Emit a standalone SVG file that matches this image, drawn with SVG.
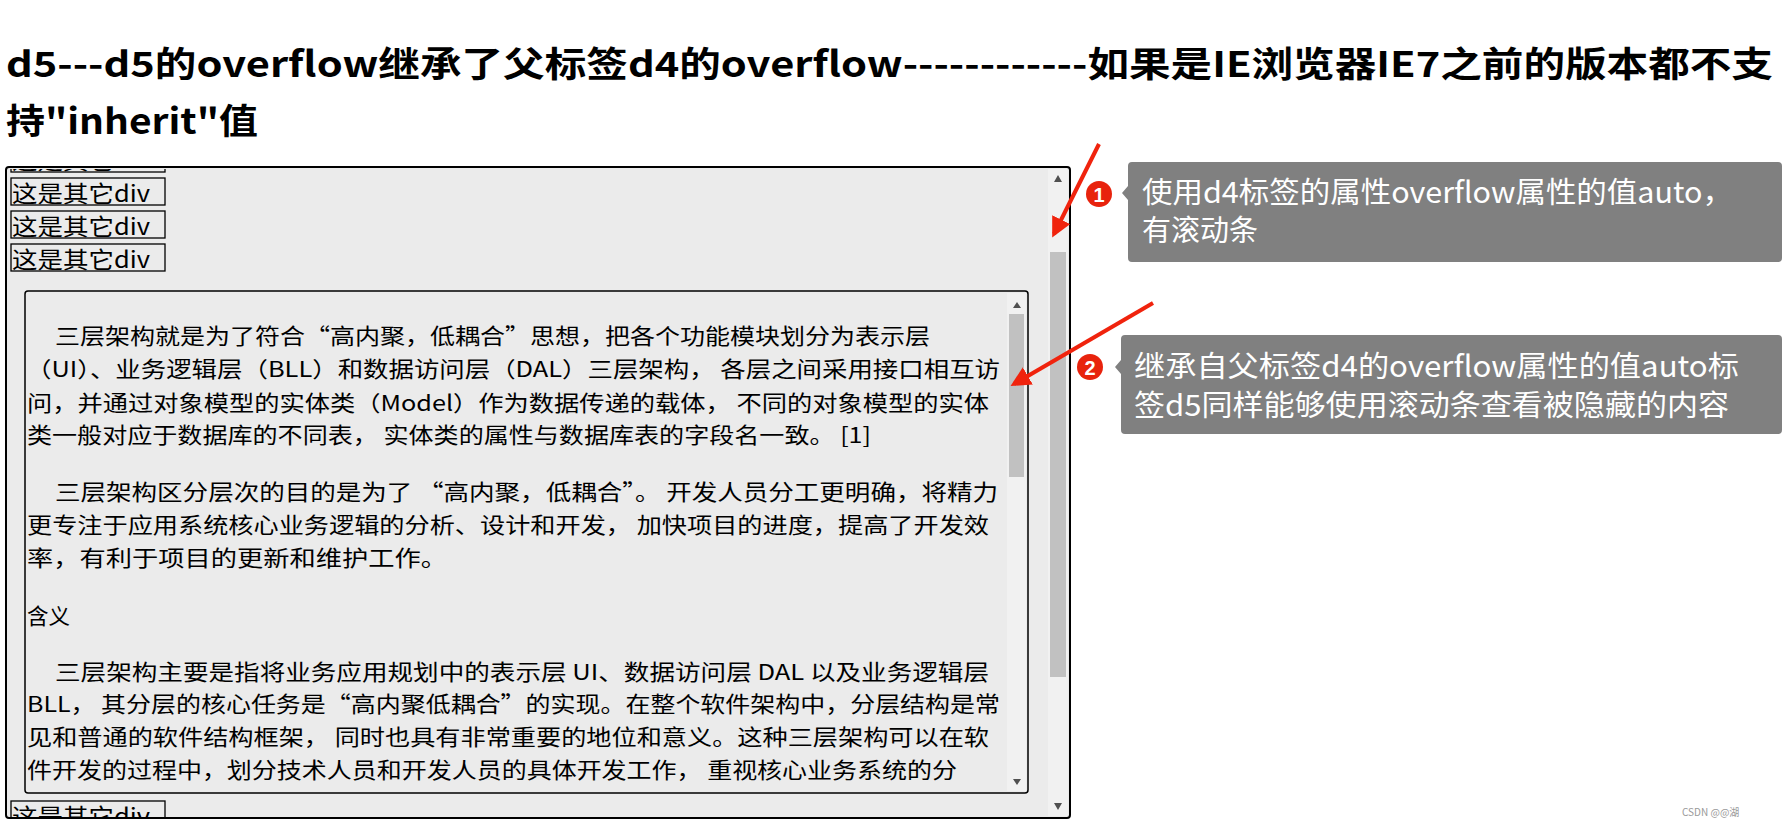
<svg xmlns="http://www.w3.org/2000/svg" width="1782" height="828" viewBox="0 0 1782 828">
<style>
.t{font-family:"Microsoft YaHei","Noto Sans CJK SC",sans-serif;fill:#000}
.b{font-size:23px}
.p{font-size:21.5px}
.w{font-family:"Noto Sans CJK SC",sans-serif;font-size:29px;fill:#fff}
.sb{fill:#c1c1c1}
.ar{fill:#505050}
.box{fill:none;stroke:#000;stroke-width:1.3}
</style>
<defs>
<clipPath id="oc"><rect x="7" y="169" width="1041" height="648"/></clipPath>
<marker id="ah" viewBox="0 0 10 10" refX="8" refY="5" markerWidth="5" markerHeight="5" orient="auto"><path d="M0,0L10,5L0,10z" fill="#f0230d"/></marker>
</defs>
<rect width="1782" height="828" fill="#fff"/>
<g id="title" class="t" font-weight="bold" font-size="35">
<text x="6" y="77" textLength="1767" lengthAdjust="spacingAndGlyphs">d5---d5的overflow继承了父标签d4的overflow------------如果是IE浏览器IE7之前的版本都不支</text>
<text x="6" y="134" textLength="252" lengthAdjust="spacingAndGlyphs">持"inherit"值</text>
</g>
<g id="d4">
<rect x="6" y="167" width="1064" height="651" rx="3" fill="#ebebeb" stroke="#000" stroke-width="2"/>
<rect x="1048" y="169" width="20" height="647" fill="#f1f1f1"/>
<rect class="sb" x="1050" y="252" width="16" height="425"/>
<path class="ar" d="M1054,182L1062,182L1058,175z M1054,803L1062,803L1058,810z"/>
<g clip-path="url(#oc)" class="t b">
<rect class="box" x="11" y="145" width="154" height="27"/><text x="12" y="169" textLength="138" lengthAdjust="spacingAndGlyphs">这是其它div</text>
<rect class="box" x="11" y="178" width="154" height="27"/><text x="12" y="202" textLength="138" lengthAdjust="spacingAndGlyphs">这是其它div</text>
<rect class="box" x="11" y="211" width="154" height="27"/><text x="12" y="235" textLength="138" lengthAdjust="spacingAndGlyphs">这是其它div</text>
<rect class="box" x="11" y="244" width="154" height="27"/><text x="12" y="268" textLength="138" lengthAdjust="spacingAndGlyphs">这是其它div</text>
<rect class="box" x="11" y="801" width="154" height="27"/><text x="12" y="825" textLength="138" lengthAdjust="spacingAndGlyphs">这是其它div</text>
</g>
</g>
<g id="d5">
<rect x="25" y="291" width="1003" height="502" rx="3" fill="#ebebeb" stroke="#000" stroke-width="1.5"/>
<rect x="1007" y="293" width="19" height="498" fill="#f1f1f1"/>
<rect class="sb" x="1009" y="314" width="15" height="163"/>
<path class="ar" d="M1013,308L1021,308L1017,302z M1013,779L1021,779L1017,785z"/>
<g class="t p">
<text x="55" y="344" textLength="875" lengthAdjust="spacingAndGlyphs">三层架构就是为了符合“高内聚，低耦合”思想，把各个功能模块划分为表示层</text>
<text x="26" y="377" textLength="974" lengthAdjust="spacingAndGlyphs">（UI）、业务逻辑层（BLL）和数据访问层（DAL）三层架构， 各层之间采用接口相互访</text>
<text x="27" y="411" textLength="962" lengthAdjust="spacingAndGlyphs">问，并通过对象模型的实体类（Model）作为数据传递的载体， 不同的对象模型的实体</text>
<text x="27" y="443" textLength="844" lengthAdjust="spacingAndGlyphs">类一般对应于数据库的不同表， 实体类的属性与数据库表的字段名一致。 [1]</text>
<text x="55" y="500" textLength="943" lengthAdjust="spacingAndGlyphs">三层架构区分层次的目的是为了 “高内聚，低耦合”。 开发人员分工更明确，将精力</text>
<text x="27" y="533" textLength="962" lengthAdjust="spacingAndGlyphs">更专注于应用系统核心业务逻辑的分析、设计和开发， 加快项目的进度，提高了开发效</text>
<text x="27" y="566" textLength="420" lengthAdjust="spacingAndGlyphs">率，有利于项目的更新和维护工作。</text>
<text x="27" y="624">含义</text>
<text x="55" y="680" textLength="934" lengthAdjust="spacingAndGlyphs">三层架构主要是指将业务应用规划中的表示层 UI、数据访问层 DAL 以及业务逻辑层</text>
<text x="27" y="712" textLength="973" lengthAdjust="spacingAndGlyphs">BLL， 其分层的核心任务是“高内聚低耦合”的实现。在整个软件架构中，分层结构是常</text>
<text x="27" y="745" textLength="962" lengthAdjust="spacingAndGlyphs">见和普通的软件结构框架， 同时也具有非常重要的地位和意义。这种三层架构可以在软</text>
<text x="27" y="778" textLength="930" lengthAdjust="spacingAndGlyphs">件开发的过程中，划分技术人员和开发人员的具体开发工作， 重视核心业务系统的分</text>
</g>
</g>
<g id="callout1">
<path d="M1132,162H1778a4,4 0 0 1 4,4V258a4,4 0 0 1-4,4H1132a4,4 0 0 1-4-4V200L1122,193L1128,186V166a4,4 0 0 1 4-4z" fill="#808080"/>
<circle cx="1099" cy="194" r="13" fill="#e8230d"/>
<text x="1099" y="202" text-anchor="middle" font-family="Liberation Sans,sans-serif" font-size="20" font-weight="bold" fill="#fff">1</text>
<text class="w" x="1142" y="203" textLength="591" lengthAdjust="spacingAndGlyphs">使用d4标签的属性overflow属性的值auto，</text>
<text class="w" x="1142" y="241">有滚动条</text>
</g>
<g id="callout2">
<path d="M1125,335H1778a4,4 0 0 1 4,4V430a4,4 0 0 1-4,4H1125a4,4 0 0 1-4-4V374L1115,367L1121,360V339a4,4 0 0 1 4-4z" fill="#808080"/>
<circle cx="1090" cy="367" r="13" fill="#e8230d"/>
<text x="1090" y="375" text-anchor="middle" font-family="Liberation Sans,sans-serif" font-size="20" font-weight="bold" fill="#fff">2</text>
<text class="w" x="1134" y="377" textLength="605" lengthAdjust="spacingAndGlyphs">继承自父标签d4的overflow属性的值auto标</text>
<text class="w" x="1134" y="416" textLength="595" lengthAdjust="spacingAndGlyphs">签d5同样能够使用滚动条查看被隐藏的内容</text>
</g>
<g id="connectors" stroke="#f0230d" stroke-width="4" fill="none">
<path d="M1099,144L1054,234" marker-end="url(#ah)"/>
<path d="M1153,303L1014,384" marker-end="url(#ah)"/>
</g>
<text x="1682" y="816" font-family="Noto Sans CJK SC,sans-serif" font-size="10" fill="#999">CSDN @@湖</text>
</svg>
